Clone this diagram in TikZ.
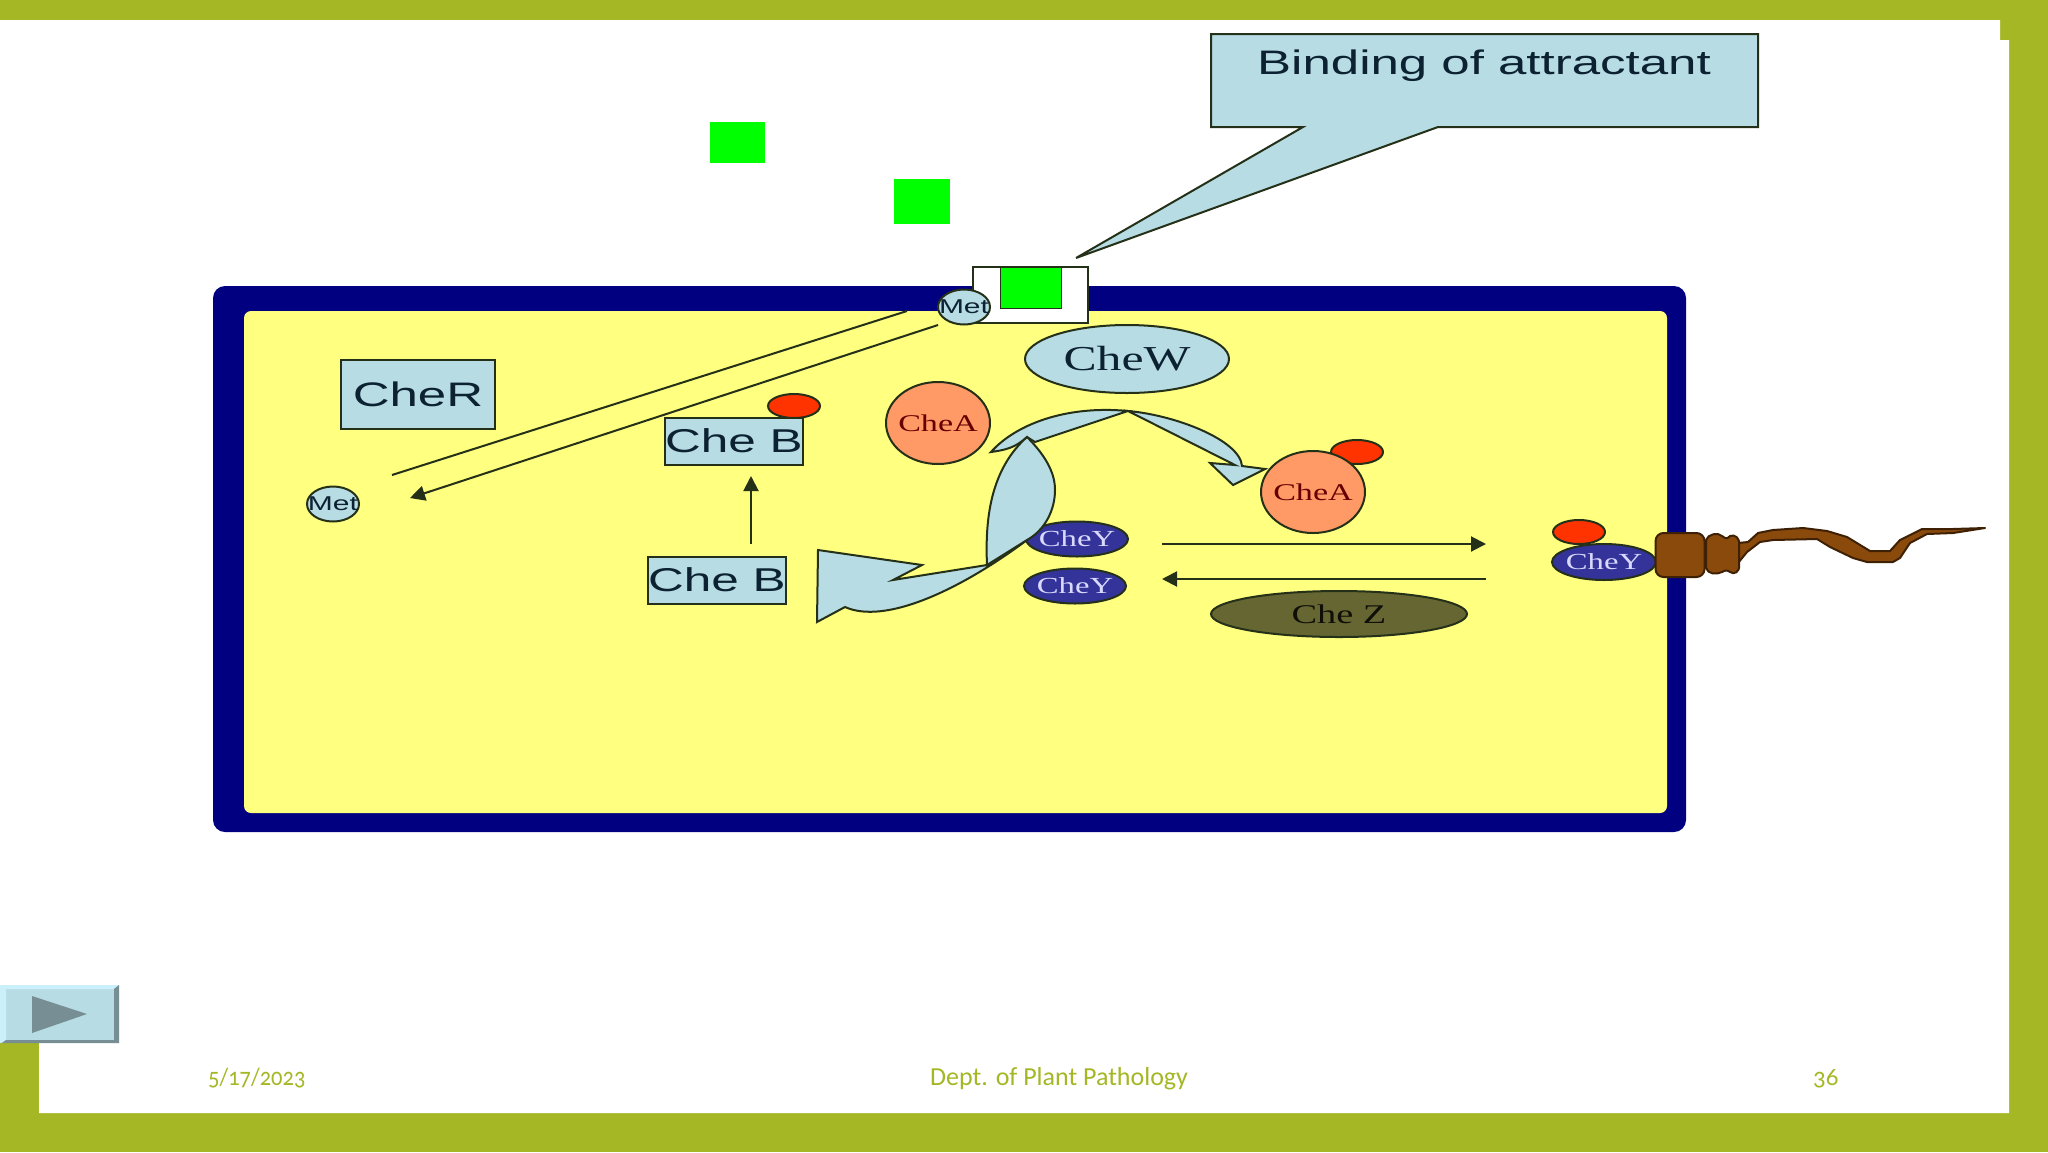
\documentclass[tikz,border=0pt]{standalone}
\usepackage{fontspec}
\usetikzlibrary{shapes.geometric,arrows.meta}
\setmainfont{Liberation Serif}
\newfontfamily\sanswide[FakeStretch=1.5]{Liberation Sans}
\newfontfamily\serifwide[FakeStretch=1.42]{Liberation Serif}
\newfontfamily\footfont[Numbers=OldStyle]{Carlito}
\newfontfamily\footnarrow[Numbers=OldStyle,FakeStretch=0.9]{Carlito}
\newcommand{\zerow}[1]{\makebox[0pt]{#1}}
\definecolor{band}{HTML}{A6B725}
\definecolor{navy}{HTML}{000080}
\definecolor{cellyellow}{HTML}{FFFF80}
\definecolor{pale}{HTML}{B7DCE4}
\definecolor{orangeA}{HTML}{FF9966}
\definecolor{redP}{HTML}{FF3300}
\definecolor{blueY}{HTML}{333399}
\definecolor{oliveZ}{HTML}{666633}
\definecolor{brownF}{HTML}{8A4A0C}
\definecolor{edge}{HTML}{253018}
\definecolor{inkd}{HTML}{0C2232}
\tikzset{
  outl/.style={draw=edge,line width=2pt},
  palebox/.style={outl,fill=pale,rectangle,inner sep=0pt,text=inkd},
  paleoval/.style={outl,fill=pale,ellipse,inner sep=0pt,text=inkd},
  oval/.style={outl,ellipse,inner sep=0pt},
  phos/.style={oval,fill=redP,minimum width=52pt,minimum height=24pt},
  chea/.style={oval,fill=orangeA,minimum width=104pt,minimum height=82pt,text=red!40!black,font=\serifwide\fontsize{24}{24}\selectfont},
  chey/.style={oval,fill=blueY,minimum width=102pt,minimum height=35pt,text=blue!15!white,font=\serifwide\fontsize{23}{23}\selectfont},
  met/.style={paleoval,minimum width=52pt,minimum height=35pt,font=\sanswide\fontsize{20}{20}\selectfont},
  cheb/.style={palebox,minimum width=137pt,minimum height=47pt,font=\sanswide\fontsize{33}{33}\selectfont},
  attract/.style={fill=green,draw=none,rectangle,inner sep=0pt},
  wire/.style={draw=edge,line width=2pt},
  arrowline/.style={wire,-{Triangle[length=15pt,width=15pt]}},
  pale arrow/.style={outl,fill=pale,line join=miter},
  motor/.style={draw=black!55!brownF,fill=brownF,line width=2pt,line join=round},
  foot/.style={text=band,inner sep=0pt,anchor=base west},
}
\begin{document}
\begin{tikzpicture}[x=1pt,y=-1pt]
\useasboundingbox (0,0) rectangle (2048,1152);
% slide frame
\fill[band] (0,0) rectangle (2048,1152);
\fill[white] (0,20) -- (2000,20) -- (2000,40) -- (2009,40) -- (2009,1113) -- (39,1113) -- (39,1042) -- (0,1042) -- cycle;
% cell
\fill[navy,rounded corners=12pt] (213,286) rectangle (1686,832);
\fill[cellyellow,rounded corners=7pt] (244,311) rectangle (1667,813);
% free attractant
\node[attract,minimum width=55pt,minimum height=41pt] (freeA) at (737,142) {};
\node[attract,minimum width=56pt,minimum height=45pt] (freeB) at (922,201) {};
% callout
\draw[outl,fill=pale] (1211,34) -- (1758,34) -- (1758,127) -- (1438,127) -- (1076,258) -- (1303,127) -- (1211,127) -- cycle;
\node[inner sep=0pt,text=inkd,font=\sanswide\fontsize{34}{34}\selectfont] (bind) at (1484,66) {Binding of attractant};
% receptor
\node[draw=edge,line width=2.5pt,fill=white,rectangle,inner sep=0pt,minimum width=115pt,minimum height=56pt] (recept) at (1030.5,295) {};
\node[attract,draw=edge,line width=1.2pt,minimum width=61pt,minimum height=41pt] (boundA) at (1031,288) {};
% left side
\node[palebox,minimum width=154pt,minimum height=69pt,font=\sanswide\fontsize{34}{34}\selectfont] (cheR) at (418,394) {CheR};
\node[met] (met1) at (964,307) {\zerow{Met}};
\node[met] (met2) at (333,504) {\zerow{Met}};
\coordinate (l1a) at (907,311);
\coordinate (l1b) at (392,475);
\coordinate (l2a) at (938,325);
\coordinate (l2b) at (410,498);
\draw[wire] (l1a) -- (l1b);
\draw[arrowline] (l2a) -- (l2b);
\node[phos] (redB) at (794,406) {};
\node[cheb] (cheB1) at (734,441) {Che B};
\node[cheb] (cheB2) at (717,580) {Che B};
\coordinate (ub1) at (751,544);
\coordinate (ub2) at (751,476);
\draw[arrowline] (ub1) -- (ub2);
% middle
\node[paleoval,minimum width=204pt,minimum height=68pt,font=\serifwide\fontsize{35}{35}\selectfont] (cheW) at (1127,359) {\zerow{CheW}};
\node[chea] (cheA1) at (938,423) {\zerow{CheA}};
\node[phos] (redA) at (1357,452) {};
\node[chea] (cheA2) at (1313,492) {\zerow{CheA}};
\node[chey] (cheY1) at (1077,539) {\zerow{CheY}};
\node[chey] (cheY2) at (1075,586) {\zerow{CheY}};
\node[oval,fill=oliveZ,minimum width=256pt,minimum height=46pt,text=black!85!oliveZ,font=\serifwide\fontsize{27}{27}\selectfont] (cheZ) at (1339,614) {\zerow{\raisebox{-2pt}{Che Z}}};
% curved block arrows
\draw[pale arrow] (1027,540) .. controls (960,590) and (885,625) .. (845,607) -- (817,622) -- (818,550) -- (922,565) -- (893,580) -- (987,565) -- cycle;
\draw[pale arrow] (991,452) .. controls (1015,425) and (1065,405) .. (1128,411) -- (1035,442) -- (1027,437) .. controls (1015,448) and (1005,450) .. (991,452) -- cycle;
\draw[pale arrow] (1128,411) .. controls (1175,415) and (1240,440) .. (1242,466) -- (1265,469) -- (1233,485) -- (1210,463) -- (1235,465) -- cycle;
\draw[pale arrow] (1027,437) .. controls (1048,458) and (1055,475) .. (1055,490) .. controls (1055,510) and (1045,530) .. (1027,540) -- (987,565) .. controls (985,520) and (990,470) .. (1027,437) -- cycle;
% reversible arrows
\coordinate (r1a) at (1162,544);
\coordinate (r1b) at (1486,544);
\coordinate (r2a) at (1486,579);
\coordinate (r2b) at (1162,579);
\draw[arrowline] (r1a) -- (r1b);
\draw[arrowline] (r2a) -- (r2b);
% flagellar motor
\node[phos] (redY) at (1579,532) {};
\node[chey,minimum width=104pt,minimum height=36pt] (cheY3) at (1604,562) {\zerow{CheY}};
\draw[motor] (1738,543) -- (1748,542) -- (1758,533) -- (1773,530) -- (1803,528) -- (1827,531) -- (1847,537) -- (1870,551) -- (1890,551) -- (1900,540) -- (1922,529) -- (1953,529) -- (1985,528) -- (1953,533) -- (1927,534) -- (1910,543) -- (1900,558) -- (1893,562) -- (1867,562) -- (1853,558) -- (1830,547) -- (1817,539) -- (1773,540) -- (1760,542) -- (1747,552) -- (1738,563) -- cycle;
\draw[motor] (1706,540) .. controls (1708,534) and (1718,532) .. (1722,536) .. controls (1726,539) and (1727,539) .. (1730,536) .. controls (1735,534) and (1740,538) .. (1739,545) -- (1739,565) .. controls (1740,572) and (1734,575) .. (1730,572) .. controls (1727,570) and (1726,570) .. (1722,572) .. controls (1716,575) and (1708,574) .. (1706,568) -- cycle;
\node[motor,rectangle,rounded corners=8pt,inner sep=0pt,minimum width=49pt,minimum height=44pt] (motorA) at (1680,555) {};
% button
\fill[pale] (0,985) rectangle (119,1043);
\fill[white!80!cyan] (0,985) -- (119,985) -- (114,989) -- (6,989) -- (6,1040) -- (0,1043) -- cycle;
\fill[black!35!pale] (119,985) -- (119,1043) -- (2,1043) -- (6,1040) -- (114,1040) -- (114,989) -- cycle;
\fill[black!35!pale] (32,996) -- (87,1014) -- (32,1033) -- cycle;
% footer
\node[foot,font=\footnarrow\fontsize{25}{25}\selectfont] (date) at (208,1085) {5/17/2023};
\node[foot,font=\footfont\fontsize{26}{26}\selectfont] (dept) at (930,1085) {Dept. of Plant Pathology};
\node[foot,font=\footfont\fontsize{25}{25}\selectfont] (page) at (1813,1085) {36};
\end{tikzpicture}
\end{document}
